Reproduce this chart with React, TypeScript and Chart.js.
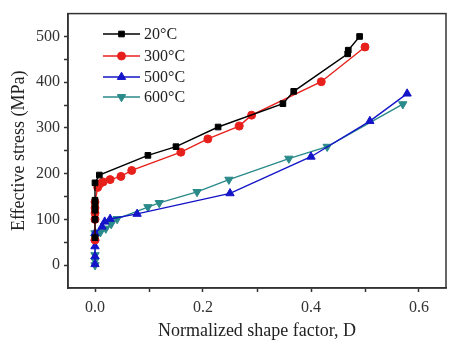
import React, { useEffect, useRef } from "react";
import { Chart, registerables } from "chart.js";

Chart.register(...registerables);

const seriesNames = ["20°C", "300°C", "500°C", "600°C"];
const seriesColors = ["#000000", "#e8201c", "#1414c8", "#2a8a8a"];
const seriesMarkers = ["rect", "circle", "triangle", "triangle"];
const seriesRotation = [0, 0, 0, 180];
const seriesRadius = [4, 4, 4.8, 4.8];

const d20x = [0, 0, 0, 0, 0, 0, 0.008, 0.098, 0.15, 0.228, 0.348, 0.368, 0.468, 0.469, 0.49];
const d20y = [60, 100, 120, 132, 142, 180, 197, 240, 259, 302, 353, 380, 462, 470, 500];

const d300x = [0, 0, 0, 0, 0, 0.005, 0.009, 0.015, 0.028, 0.048, 0.068, 0.159, 0.209, 0.267, 0.29, 0.419, 0.5];
const d300y = [55, 100, 114, 125, 138, 170, 178, 182, 187, 194, 207, 247, 276, 304, 328, 401, 477];

const d500x = [0, 0, 0, 0, 0, 0.013, 0.018, 0.028, 0.078, 0.25, 0.4, 0.509, 0.578];
const d500y = [2, 19, 41, 58, 70, 84, 95, 101, 112, 157, 237, 315, 375];

const d600x = [0, 0, 0, 0, 0, 0.01, 0.02, 0.03, 0.041, 0.098, 0.119, 0.189, 0.248, 0.359, 0.43, 0.57];
const d600y = [0, 10, 22, 60, 70, 72, 80, 90, 101, 127, 136, 160, 187, 233, 259, 352];

const xTicks = [0, 0.1, 0.2, 0.3, 0.4, 0.5, 0.6];
const xLabels = ["0.0", "", "0.2", "", "0.4", "", "0.6"];
const yTicks = [0, 50, 100, 150, 200, 250, 300, 350, 400, 450, 500];
const yLabels = ["0", "", "100", "", "200", "", "300", "", "400", "", "500"];

const xTitle = "Normalized shape factor, D";
const yTitle = "Effective stress (MPa)";

const FONT = "'Liberation Serif', 'DejaVu Serif', serif";
const AXIS_COLOR = "#333333";

function zip(xs: number[], ys: number[]) {
  return xs.map((x, i) => ({ x, y: ys[i] }));
}

const allData = [zip(d20x, d20y), zip(d300x, d300y), zip(d500x, d500y), zip(d600x, d600y)];

function drawMarker(ctx: CanvasRenderingContext2D, style: string, r: number, rot: number, x: number, y: number) {
  ctx.beginPath();
  if (style === "rect") {
    const s = r * Math.SQRT1_2 * 2;
    ctx.rect(x - s / 2, y - s / 2, s, s);
  } else if (style === "circle") {
    ctx.arc(x, y, r, 0, Math.PI * 2);
  } else {
    const a0 = (rot * Math.PI) / 180 - Math.PI / 2;
    for (let k = 0; k < 3; k++) {
      const a = a0 + (k * 2 * Math.PI) / 3;
      const px = x + r * Math.cos(a);
      const py = y + r * Math.sin(a);
      if (k === 0) ctx.moveTo(px, py);
      else ctx.lineTo(px, py);
    }
    ctx.closePath();
  }
  ctx.fill();
  ctx.stroke();
}

const framePlugin = {
  id: "frame",
  afterDraw(chart: any) {
    const { ctx, chartArea } = chart;
    ctx.save();
    ctx.strokeStyle = AXIS_COLOR;
    ctx.lineWidth = 1.5;
    ctx.strokeRect(chartArea.left, chartArea.top, chartArea.right - chartArea.left, chartArea.bottom - chartArea.top);
    ctx.restore();
  },
};

const legendPlugin = {
  id: "insideLegend",
  afterDraw(chart: any) {
    const { ctx } = chart;
    ctx.save();
    const x0 = 103;
    const x1 = 140;
    const ys = [34, 56, 77, 97];
    chart.data.datasets.forEach((ds: any, i: number) => {
      const y = ys[i];
      ctx.strokeStyle = ds.borderColor;
      ctx.lineWidth = 1.4;
      ctx.beginPath();
      ctx.moveTo(x0, y);
      ctx.lineTo(x1, y);
      ctx.stroke();
      ctx.fillStyle = ds.pointBackgroundColor;
      ctx.strokeStyle = ds.pointBorderColor;
      ctx.lineWidth = 1;
      drawMarker(ctx, seriesMarkers[i], seriesRadius[i], seriesRotation[i], (x0 + x1) / 2, y);
      ctx.fillStyle = "#222";
      ctx.font = `16px ${FONT}`;
      ctx.textBaseline = "middle";
      ctx.textAlign = "left";
      ctx.fillText(ds.label, 144, y + 1);
    });
    ctx.restore();
  },
};

export default function App() {
  const ref = useRef<HTMLCanvasElement | null>(null);

  useEffect(() => {
    document.body.style.margin = "0";
    const canvas = ref.current;
    if (!canvas) return;
    const chart = new Chart(canvas, {
      type: "scatter",
      data: {
        datasets: seriesNames.map((name, i) => ({
          label: name,
          data: allData[i],
          showLine: true,
          borderColor: seriesColors[i],
          backgroundColor: seriesColors[i],
          pointBackgroundColor: seriesColors[i],
          pointBorderColor: seriesColors[i],
          pointStyle: seriesMarkers[i] as any,
          pointRotation: seriesRotation[i],
          pointRadius: seriesRadius[i],
          pointBorderWidth: 1,
          borderWidth: 1.4,
          tension: 0,
        })),
      },
      options: {
        animation: false,
        responsive: false,
        devicePixelRatio: 1,
        layout: { padding: { top: 12, right: 28, left: 4, bottom: 0 } },
        plugins: {
          legend: { display: false },
          tooltip: { enabled: false },
        },
        scales: {
          x: {
            type: "linear",
            min: -0.05,
            max: 0.65,
            afterBuildTicks: (scale: any) => {
              scale.ticks = xTicks.map((v) => ({ value: v }));
            },
            afterFit: (scale: any) => {
              scale.height = 65;
            },
            border: { display: true, color: AXIS_COLOR, width: 1.5 },
            grid: {
              drawOnChartArea: false,
              drawTicks: true,
              tickLength: 4,
              tickColor: AXIS_COLOR,
              tickWidth: 1.5,
            },
            ticks: {
              color: "#333",
              font: { family: FONT, size: 16 },
              padding: 6,
              maxRotation: 0,
              autoSkip: false,
              callback: (_v: any, idx: number) => xLabels[idx],
            },
            title: {
              display: true,
              text: xTitle,
              color: "#222",
              font: { family: FONT, size: 18 },
              padding: { top: 0, bottom: 11 },
            },
          },
          y: {
            type: "linear",
            min: -50,
            max: 550,
            afterBuildTicks: (scale: any) => {
              scale.ticks = yTicks.map((v) => ({ value: v }));
            },
            afterFit: (scale: any) => {
              scale.width = 64;
            },
            border: { display: true, color: AXIS_COLOR, width: 1.5 },
            grid: {
              drawOnChartArea: false,
              drawTicks: true,
              tickLength: 4,
              tickColor: AXIS_COLOR,
              tickWidth: 1.5,
            },
            ticks: {
              color: "#333",
              font: { family: FONT, size: 16 },
              padding: 4,
              autoSkip: false,
              callback: (_v: any, idx: number) => yLabels[idx],
            },
            title: {
              display: true,
              text: yTitle,
              color: "#222",
              font: { family: FONT, size: 18 },
              padding: { bottom: 2 },
            },
          },
        },
      },
      plugins: [framePlugin, legendPlugin],
    });
    return () => chart.destroy();
  }, []);

  return <canvas ref={ref} width={474} height={353} style={{ display: "block" }} />;
}
